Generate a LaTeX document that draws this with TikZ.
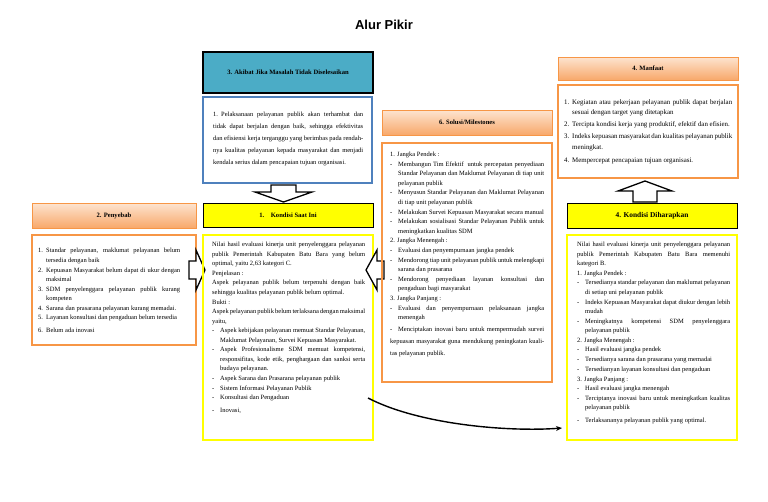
\documentclass[tikz,border=0pt]{standalone}
\usepackage{fontspec}
\setmainfont{Liberation Serif}
\newfontfamily\titlefont{Liberation Sans}
\usetikzlibrary{arrows.meta}
\newcommand\myli[2]{\par\hangindent=8pt\hangafter=1\noindent\makebox[8pt][l]{#1}#2}
\newcommand\mytxt{\fontsize{6.5}{9.4}\selectfont\setlength{\parskip}{0.3pt}\hyphenpenalty=10000\exhyphenpenalty=10000\sloppy}
\definecolor{orbd}{HTML}{F79646}
\definecolor{ortop}{HTML}{FDE4D0}
\definecolor{orbot}{HTML}{F8A86A}
\definecolor{teal}{HTML}{4BACC6}
\definecolor{bluebd}{HTML}{4F81BD}
\definecolor{yel}{HTML}{FFFF00}
\tikzset{
 hdr/.style={draw=orbd,line width=0.8pt,top color=ortop,bottom color=orbot},
 ybox/.style={draw=black,line width=1pt,fill=yel},
 hfont/.style={font=\fontsize{6.6}{7}\selectfont\bfseries},
 body/.style={line width=1.2pt,inner sep=0pt},
 txt/.style={anchor=north west,align=justify,inner sep=0pt},
 blk/.style={draw=black,line width=1.3pt,fill=white,line join=miter},
}
\begin{document}
\begin{tikzpicture}[x=1pt,y=-1pt]
\useasboundingbox (0,0) rectangle (768,501);
\fill[white] (0,0) rectangle (768,501);
\node[font=\titlefont\fontsize{13}{15}\selectfont\bfseries] (title) at (384,25) {Alur Pikir};

% Box 3
\draw[line width=1.2pt,fill=teal] (203,52) rectangle (373,93);
\node[hfont] (h3) at (288,72.5) {3. Akibat Jika Masalah Tidak Diselesaikan};
\draw[body,draw=bluebd] (203,97) rectangle (372,183);
\node[txt,text width=150pt] (t3) at (213,104) {\mytxt\fontsize{6.5}{11}\selectfont
\myli{1.}{Pelaksanaan pelayanan publik akan terhambat dan tidak dapat berjalan dengan baik, sehingga efektivitas dan efisiensi kerja terganggu yang berimbas pada rendahnya kualitas pelayanan kepada masyarakat dan menjadi kendala serius dalam pencapaian tujuan organisasi.}};

% down arrow
\draw[blk] (271,185) -- (296,185) -- (296,192) -- (312,192) -- (283.5,202) -- (255,192) -- (271,192) -- cycle;

% Penyebab
\draw[hdr] (32,203) rectangle (196,228);
\node[hfont] (h2) at (114,215.5) {2. Penyebab};
\draw[body,draw=orbd] (32,235) rectangle (196,345);
\node[txt,text width=142pt] (t2) at (38,243) {\mytxt
\myli{1.}{Standar pelayanan, maklumat pelayanan belum tersedia dengan baik}
\myli{2.}{Kepuasan Masyarakat belum dapat di ukur dengan maksimal}
\myli{3.}{SDM penyelenggara pelayanan publik kurang kompeten}
\myli{4.}{Sarana dan prasarana pelayanan kurang memadai.}
\myli{5.}{Layanan konsultasi dan pengaduan belum tersedia}
\myli{6.}{Belum ada inovasi}};

% right arrow
\draw[blk] (189,261) -- (196,261) -- (196,250) -- (205,270) -- (196,290) -- (196,279) -- (189,279) -- cycle;

% Kondisi saat ini
\draw[ybox] (203,203) rectangle (373,227);
\node[hfont] (h1) at (288,215) {1.\quad Kondisi Saat Ini};
\draw[body,draw=yel] (203,235) rectangle (373,440);
\node[txt,text width=153pt] (t1) at (212,242) {\mytxt
Nilai hasil evaluasi kinerja unit penyelenggara pelayanan publik Pemerintah Kabupaten Batu Bara yang belum optimal, yaitu 2,63 kategori C.\par
Penjelasan :\par
Aspek pelayanan publik belum terpenuhi dengan baik sehingga kualitas pelayanan publik belum optimal.\par
Bukti :\par
Aspek pelayanan publik belum terlaksana dengan maksimal yaitu,
\myli{-}{Aspek kebijakan pelayanan memuat Standar Pelayanan, Maklumat Pelayanan, Survei Kepuasan Masyarakat.}
\myli{-}{Aspek Profesionalisme SDM memuat kompetensi, responsifitas, kode etik, penghargaan dan sanksi serta budaya pelayanan.}
\myli{-}{Aspek Sarana dan Prasarana pelayanan publik}
\myli{-}{Sistem Informasi Pelayanan Publik}
\myli{-}{Konsultasi dan Pengaduan}
\myli{-}{Inovasi,}};

% left arrow
\draw[blk] (384,261) -- (377,261) -- (377,250) -- (366,270) -- (377,290) -- (377,279) -- (384,279) -- cycle;

% Solusi
\draw[hdr] (382,110) rectangle (552,135);
\node[hfont] (h6) at (467,122.5) {6. Solusi/Milestones};
\draw[body,draw=orbd] (382,143) rectangle (552,382);
\node[txt,text width=154pt] (t6) at (390,152) {\mytxt
1. Jangka Pendek :
\myli{-}{Membangun Tim Efektif\; untuk percepatan penyediaan Standar Pelayanan dan Maklumat Pelayanan di tiap unit pelayanan publik}
\myli{-}{Menyusun Standar Pelayanan dan Maklumat Pelayanan di tiap unit pelayanan publik}
\myli{-}{Melakukan Survei Kepuasan Masyarakat secara manual}
\myli{-}{Melakukan sosialisasi Standar Pelayanan Publik untuk meningkatkan kualitas SDM}\par
2. Jangka Menengah :
\myli{-}{Evaluasi dan penyempurnaan jangka pendek}
\myli{-}{Mendorong tiap unit pelayanan publik untuk melengkapi sarana dan prasarana}
\myli{-}{Mendorong penyediaan layanan konsultasi dan pengaduan bagi masyarakat}\par
3. Jangka Panjang :
\myli{-}{Evaluasi dan penyempurnaan pelaksanaan jangka menengah}
\myli{-}{Menciptakan inovasi baru untuk mempermudah survei kepuasan masyarakat guna mendukung peningkatan kualitas pelayanan publik.}};

% curved arrow
\coordinate (cs) at (368,398);
\coordinate (ce) at (562,428);
\draw[line width=1.4pt,-{Stealth[length=6pt,width=5pt]}] (cs) .. controls (420,425) and (510,432) .. (ce);

% Manfaat
\draw[hdr] (558,57) rectangle (738,80);
\node[hfont] (h4) at (648,68.5) {4. Manfaat};
\draw[body,draw=orbd] (558,85) rectangle (738,178);
\node[txt,text width=168pt] (t4) at (564,92) {\mytxt\fontsize{6.9}{10.4}\selectfont\setlength{\parskip}{1.6pt}
\myli{1.}{Kegiatan atau pekerjaan pelayanan publik dapat berjalan sesuai dengan target yang ditetapkan}
\myli{2.}{Tercipta kondisi kerja yang produktif, efektif dan efisien.}
\myli{3.}{Indeks kepuasan masyarakat dan kualitas pelayanan publik meningkat.}
\myli{4.}{Mempercepat pencapaian tujuan organisasi.}};

% up arrow
\draw[blk] (633,202) -- (657,202) -- (657,191) -- (672,191) -- (645,181) -- (618,191) -- (633,191) -- cycle;

% Kondisi diharapkan
\draw[ybox] (567,203) rectangle (737,228);
\node[font=\fontsize{7.4}{8}\selectfont\bfseries] (h5) at (652,215.5) {4. Kondisi Diharapkan};
\draw[body,draw=yel] (567,235) rectangle (737,440);
\node[txt,text width=153pt] (t5) at (577,242) {\mytxt
Nilai hasil evaluasi kinerja unit penyelenggara pelayanan publik Pemerintah Kabupaten Batu Bara memenuhi kategori B.\par
1. Jangka Pendek :
\myli{-}{Tersedianya standar pelayanan dan maklumat pelayanan di setiap uni pelayanan publik}
\myli{-}{Indeks Kepuasan Masyarakat dapat diukur dengan lebih mudah}
\myli{-}{Meningkatnya kompetensi SDM penyelenggara pelayanan publik}\par
2. Jangka Menengah :
\myli{-}{Hasil evaluasi jangka pendek}
\myli{-}{Tersedianya sarana dan prasarana yang memadai}
\myli{-}{Tersedianyan layanan konsultasi dan pengaduan}\par
3. Jangka Panjang :
\myli{-}{Hasil evaluasi jangka menengah}
\myli{-}{Terciptanya inovasi baru untuk meningkatkan kualitas pelayanan publik}
\myli{-}{Terlaksananya pelayanan publik yang optimal.}};
\end{tikzpicture}
\end{document}
